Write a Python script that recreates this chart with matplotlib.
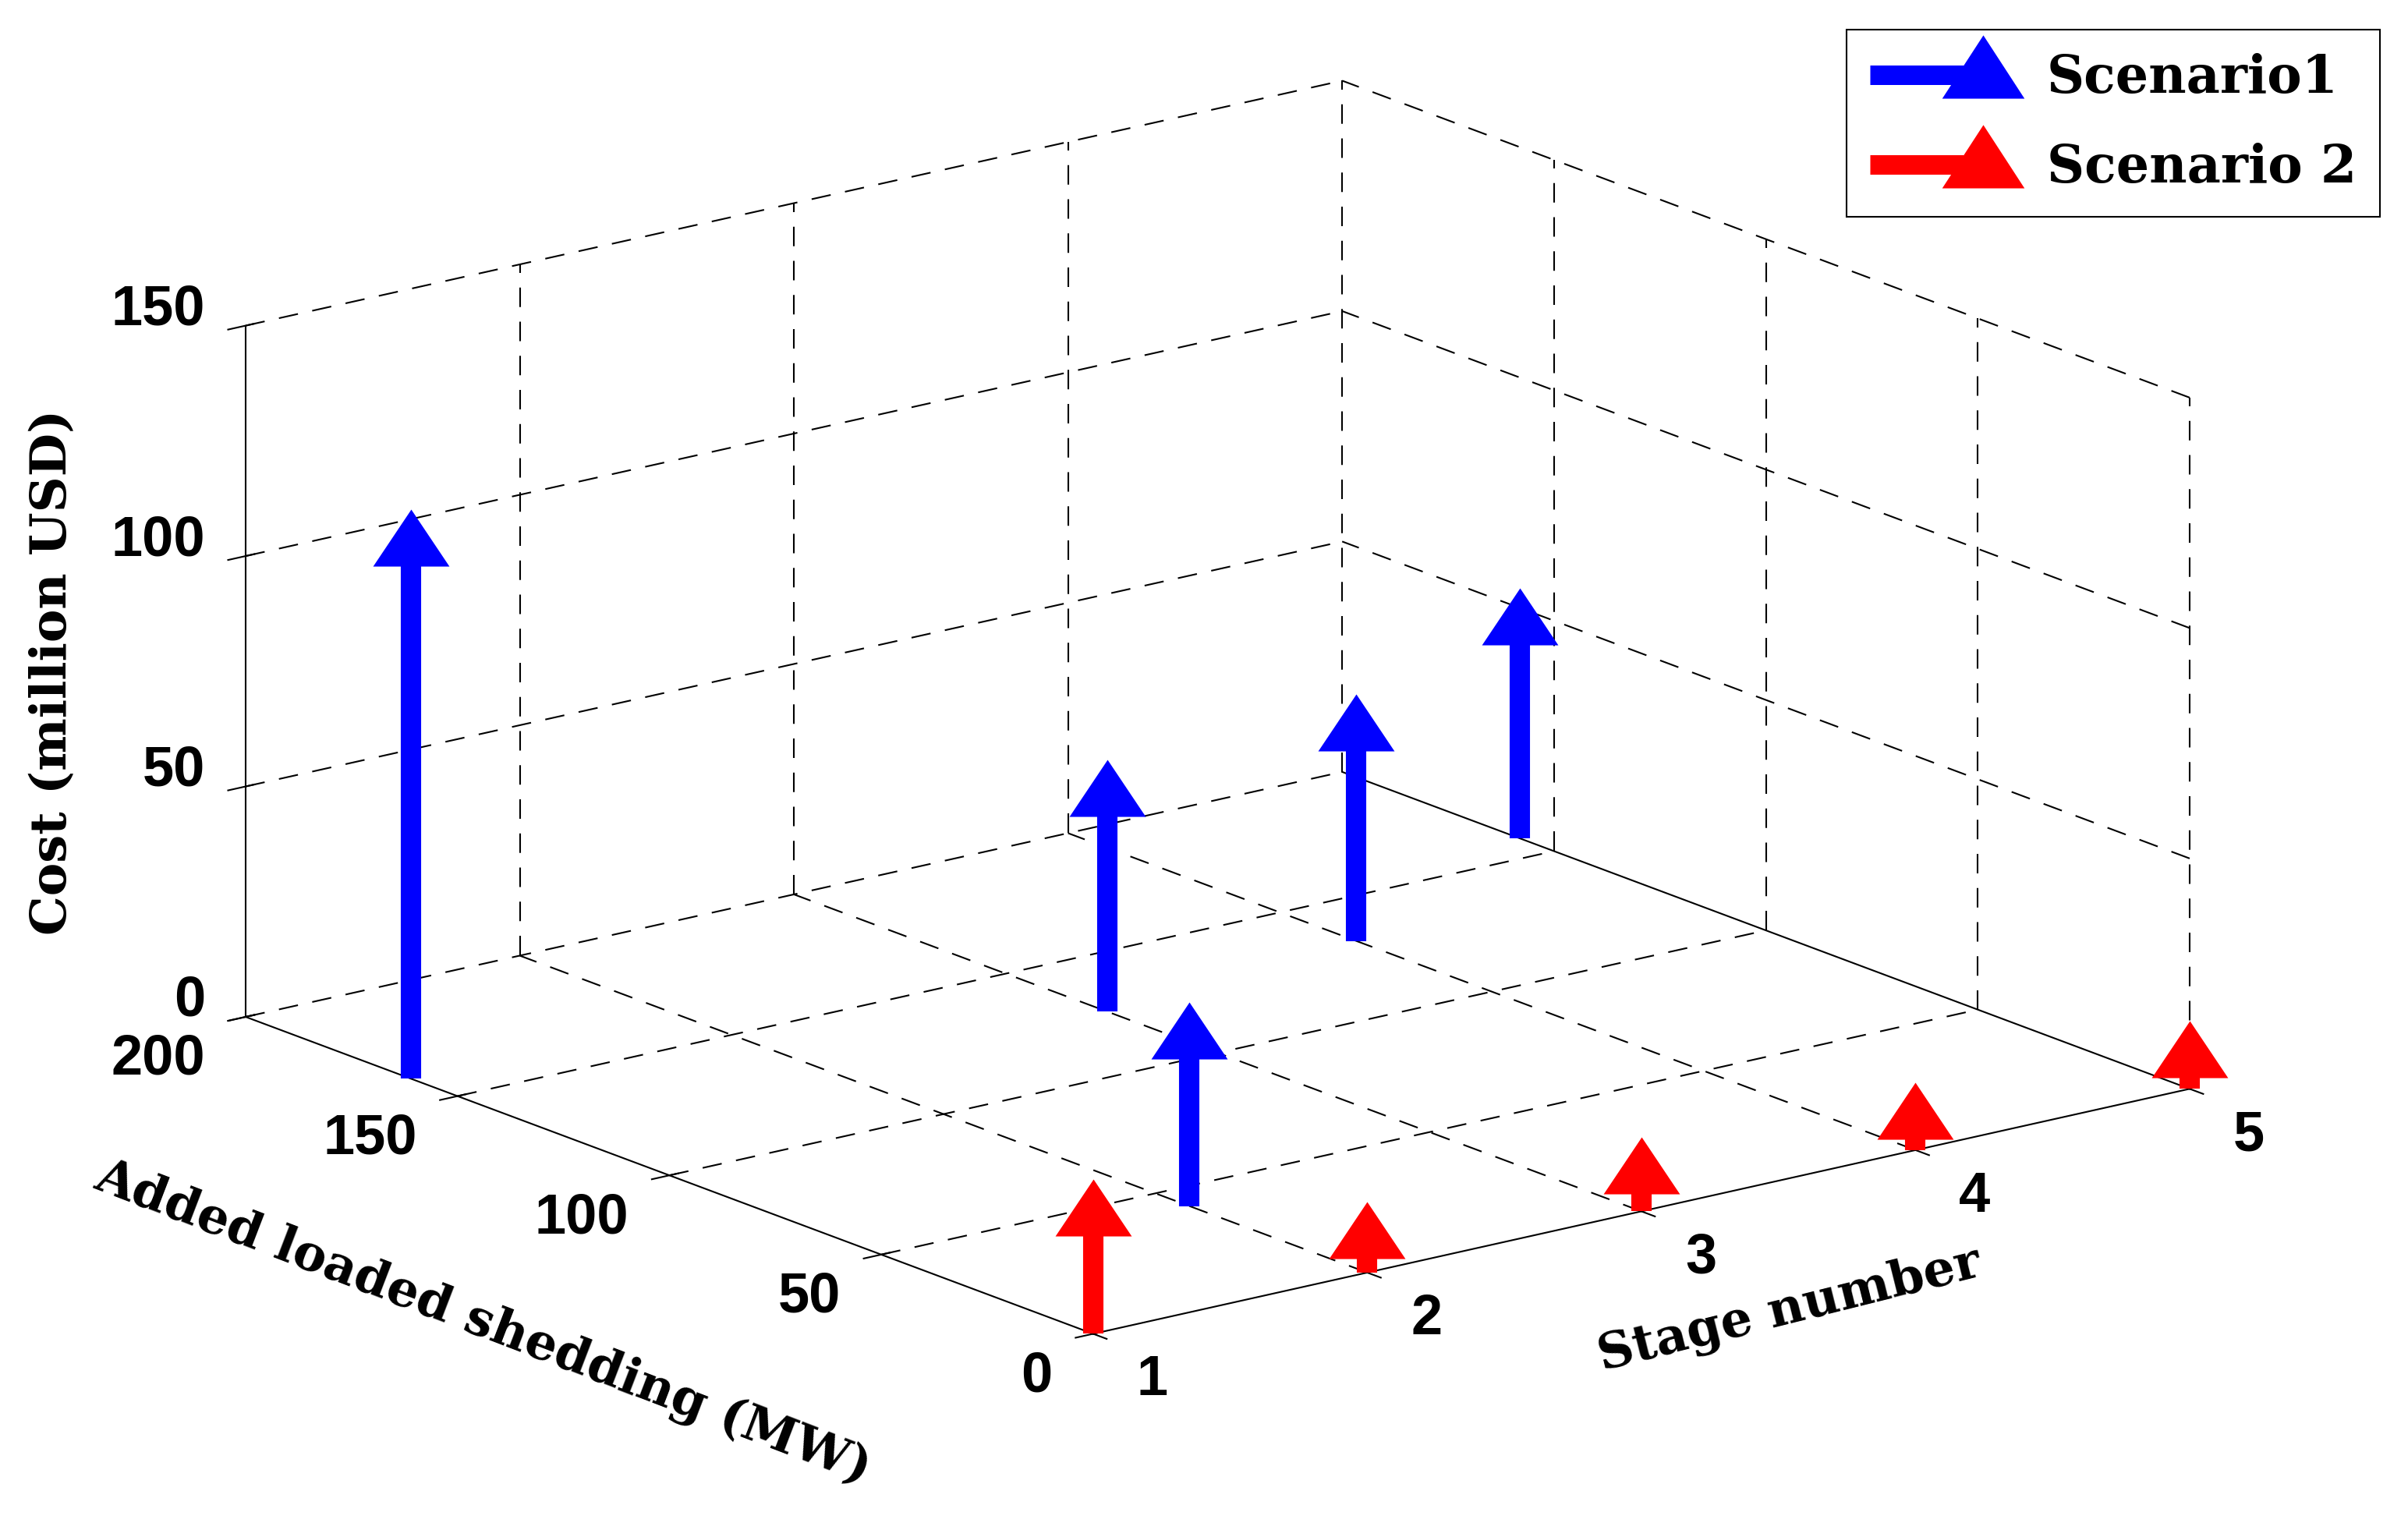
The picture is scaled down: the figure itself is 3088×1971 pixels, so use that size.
import matplotlib
matplotlib.use("Agg")
import matplotlib.pyplot as plt
import numpy as np
from matplotlib.lines import Line2D
from matplotlib.legend_handler import HandlerBase
from mpl_toolkits.mplot3d import proj3d

# datos
etapas = [1, 2, 3, 4, 5]
deslastre_s1 = [161, 42, 126, 132, 158]      # MW
coste_s1 = [123.5, 44.3, 54.7, 53.6, 54.3]   # million USD
deslastre_s2 = [0, 0, 0, 0, 0]
coste_s2 = [33.6, 15.4, 16.1, 14.7, 14.8]

x_ticks = [1, 2, 3, 4, 5]
y_ticks = [0, 50, 100, 150, 200]
z_ticks = [0, 50, 100, 150]

plt.rcParams['font.family'] = ['Liberation Sans', 'DejaVu Sans']
plt.rcParams['font.weight'] = 'bold'

W, H = 3088, 1971
DPI = 200
fig = plt.figure(figsize=(W / DPI, H / DPI), dpi=DPI)

side = 2200.0
cx, cy = 1550.0, 1000.0
ax = fig.add_axes([(cx - side / 2) / W, (cy - side / 2) / H, side / W, side / H],
                  projection='3d', proj_type='ortho')
ax.view_init(elev=16.8, azim=-127.7)
ax.set_box_aspect((1, 1, 0.521))
ax.set_xlim(x_ticks[0], x_ticks[-1])
ax.set_ylim(y_ticks[0], y_ticks[-1])
ax.set_zlim(z_ticks[0], z_ticks[-1])
ax.set_xticks(x_ticks)
ax.set_yticks(y_ticks)
ax.set_zticks(z_ticks)
ax.set_xticklabels([])
ax.set_yticklabels([])
ax.set_zticklabels([])
ax.grid(False)

for axis in (ax.xaxis, ax.yaxis, ax.zaxis):
    axis.set_pane_color((1, 1, 1, 0))
    axis.pane.set_edgecolor('none')
    axis.line.set_color('k')
    axis.line.set_linewidth(0.75)
    axis._axinfo['tick']['linewidth'][True] = 0.75
for a in ('x', 'y', 'z'):
    ax.tick_params(axis=a, colors='k')


def to_px(x, y, z):
    xs, ys, _ = proj3d.proj_transform(x, y, z, ax.get_proj())
    return ax.transData.transform((xs, ys))


# ajustar la posicion de los ejes para que la caja caiga donde en la figura original
fig.canvas.draw()
p1 = to_px(x_ticks[0], y_ticks[-1], 0)
p2 = to_px(x_ticks[-1], y_ticks[0], 0)
t1 = np.array([315.0, H - 1304.0])
t2 = np.array([2808.0, H - 1403.0])
k = (t2[0] - t1[0]) / (p2[0] - p1[0])
bb = ax.get_position()
side_px = bb.width * W
c = np.array([(bb.x0 + bb.width / 2) * W, (bb.y0 + bb.height / 2) * H])
c_new = t1 - k * (p1 - c)
s_new = side_px * k
ax.set_position([(c_new[0] - s_new / 2) / W, (c_new[1] - s_new / 2) / H, s_new / W, s_new / H])
fig.canvas.draw()

x0, x1 = x_ticks[0], x_ticks[-1]
y0, y1 = y_ticks[0], y_ticks[-1]
z0, z1 = z_ticks[0], z_ticks[-1]

# rejilla discontinua (como en MATLAB, sin lineas dobles)
gkw = dict(color='k', lw=0.75, ls=(0, (12, 9)), clip_on=False)
for x in x_ticks[1:]:
    ax.plot([x, x], [y1, y1], [z0, z1], **gkw)
for z in z_ticks:
    ax.plot([x0, x1], [y1, y1], [z, z], **gkw)
for y in y_ticks[:-1]:
    ax.plot([x1, x1], [y, y], [z0, z1], **gkw)
for z in z_ticks[1:]:
    ax.plot([x1, x1], [y0, y1], [z, z], **gkw)
for x in x_ticks[1:-1]:
    ax.plot([x, x], [y0, y1], [z0, z0], **gkw)
for y in y_ticks[1:-1]:
    ax.plot([x0, x1], [y, y], [z0, z0], **gkw)
# borde del suelo en x=5
ax.plot([x1, x1], [y0, y1], [z0, z0], color='k', lw=0.75, clip_on=False)

# altura de la punta de flecha (73 px) en unidades de z
zpx = (to_px(x0, y0, z1)[1] - to_px(x0, y0, z0)[1]) / (z1 - z0)
cabeza = 73.0 / zpx

punta = [(-0.67, -1.0), (0.67, -1.0), (0.0, 0.0)]


def flechas(xs, ys, zs, color):
    for x, y, z in zip(xs, ys, zs):
        ax.plot([x, x], [y, y], [0, z - cabeza], color=color, lw=9.4,
                solid_capstyle='butt', clip_on=False)
        ax.plot([x], [y], [z], linestyle='none', marker=punta, ms=52.6,
                markerfacecolor=color, markeredgewidth=0, clip_on=False)


flechas(etapas, deslastre_s1, coste_s1, 'blue')
flechas(etapas, deslastre_s2, coste_s2, 'red')

# etiquetas de las marcas
tkw = dict(fontsize=26, fontweight='bold', va='center')
for z in z_ticks:
    p = to_px(x0, y1, z)
    fig.text((p[0] - 52) / W, (p[1] + 20) / H, str(z), ha='right', **tkw)
for y in y_ticks:
    p = to_px(x0, y, z0)
    fig.text((p[0] - 52) / W, (p[1] - 55) / H, str(y), ha='right', **tkw)
for x in x_ticks:
    p = to_px(x, y0, z0)
    fig.text((p[0] + 76) / W, (p[1] - 60) / H, str(x), ha='center', **tkw)

fig.text(68 / W, 1 - 862 / H, 'Cost (million USD)', rotation=90, ha='center', va='center',
         family='DejaVu Serif', fontsize=23, fontweight='bold')
fig.text(620 / W, 1 - 1697 / H, 'Added loaded shedding (MW)', rotation=-21, ha='center',
         va='center', rotation_mode='anchor', family='DejaVu Serif', fontsize=23, fontweight='bold')
fig.text(2295 / W, 1 - 1680 / H, 'Stage number', rotation=14, ha='center', va='center',
         rotation_mode='anchor', family='DejaVu Serif', fontsize=23, fontweight='bold')


class FlechaLeyenda(HandlerBase):
    def create_artists(self, legend, orig_handle, xdescent, ydescent, width, height, fontsize, trans):
        y = height / 2 - ydescent
        x0 = -xdescent
        col = orig_handle.get_color()
        shaft = Line2D([x0, x0 + width * 0.62], [y, y], color=col, lw=9.0, solid_capstyle='butt')
        head = Line2D([x0 + width * 0.75], [y], linestyle='none',
                      marker=[(-0.65, -0.37), (0.65, -0.37), (0.0, 0.63)], ms=38,
                      markerfacecolor=col, markeredgewidth=0)
        shaft.set_transform(trans)
        head.set_transform(trans)
        return [shaft, head]


h1 = Line2D([], [], color='blue')
h2 = Line2D([], [], color='red')
leg = fig.legend([h1, h2], ['Scenario1', 'Scenario 2'], loc='upper right',
                 bbox_to_anchor=(3052 / W, 1 - 38 / H), borderaxespad=0,
                 handler_map={Line2D: FlechaLeyenda()}, handlelength=2.9, handletextpad=0.5,
                 prop={'family': 'DejaVu Serif', 'weight': 'bold', 'size': 24},
                 fancybox=False, edgecolor='k', framealpha=1, labelspacing=0.75,
                 borderpad=0.45)
leg.get_frame().set_linewidth(0.75)

fig.savefig('out.png', dpi=DPI)
